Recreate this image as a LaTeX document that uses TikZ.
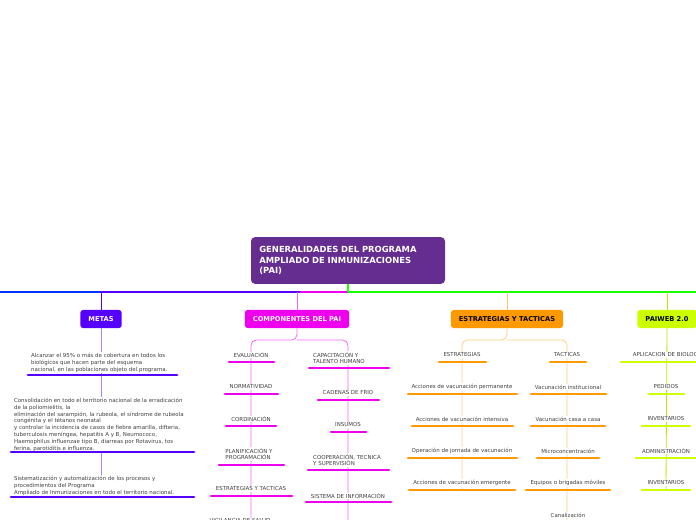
\documentclass[tikz,border=0pt]{standalone}
\usepackage{fontspec}
\setmainfont{DejaVu Sans}
\begin{document}
\begin{tikzpicture}[x=0.75pt,y=-0.75pt,
  leaf/.style={font=\fontsize{4.1}{5.1}\selectfont, text=black!75, fill=white, inner sep=0.6pt},
  bar/.style={line width=2.1pt, line cap=round},
  branch/.style={rounded corners=2pt, font=\bfseries\fontsize{5}{6}\selectfont, minimum height=13.5pt, inner xsep=6pt},
  conn/.style={line width=0.6pt, rounded corners=4pt}]
\useasboundingbox (0,0) rectangle (696,520);
\definecolor{rootc}{HTML}{662D91}
\definecolor{vio}{HTML}{5500FF}
\definecolor{mag}{HTML}{EE00EE}
\definecolor{ora}{HTML}{FF9900}
\definecolor{yel}{HTML}{CCFF00}
% main horizontal line
\draw[line width=0.9pt, blue!80!cyan] (0,292) -- (100,292);
\draw[line width=0.9pt, vio] (100,292) -- (300,292);
\draw[line width=0.9pt, mag] (300,292) -- (348,292);
\draw[line width=0.9pt, green!90!lime] (348,292) -- (696,292);
% root
\node[fill=rootc, rounded corners=3pt, text=white, font=\bfseries\fontsize{6.3}{8}\selectfont, align=left, minimum width=145.5pt, minimum height=35pt, text width=133pt] (root) at (348,260.5) {GENERALIDADES DEL PROGRAMA\\AMPLIADO DE INMUNIZACIONES\\(PAI)};
\coordinate (rj) at (348,292);
\draw[line width=1.4pt, green!80!lime] (root.south) -- (rj);
% branches
\node[branch, fill=vio, text=white] (metas) at (101,319) {METAS};
\node[branch, fill=mag, text=white] (comp) at (297,319) {COMPONENTES DEL PAI};
\node[branch, fill=ora, text=black] (estr) at (507,319) {ESTRATEGIAS Y TACTICAS};
\node[branch, fill=yel, text=black] (paiw) at (667,319) {PAIWEB 2.0};
\draw[conn, vio] (rj -| metas) -- (metas.north);
\draw[conn, mag!60] (rj -| comp) -- (comp.north);
\draw[conn, ora!60] (rj -| estr) -- (estr.north);
\draw[conn, yel!80!olive] (rj -| paiw) -- (paiw.north);
% METAS column
\coordinate (mend) at (101,497);
\draw[line width=0.6pt, vio!50] (metas.south) -- (mend);
\node[leaf, anchor=north west, align=left] (m1) at (30,352) {Alcanzar el 95\% o más de cobertura en todos los\\biológicos que hacen parte del esquema\\nacional, en las poblaciones objeto del programa.};
\draw[bar, vio] (28,375) -- (177,375);
\node[leaf, anchor=north west, align=left] (m2) at (13,397) {Consolidación en todo el territorio nacional de la erradicación\\de la poliomielitis, la\\ eliminación del sarampión, la rubeola, el síndrome de rubeola\\congénita y el tétanos neonatal\\y controlar la incidencia de casos de fiebre amarilla, difteria,\\tuberculosis meníngea, hepatitis A y B, Neumococo,\\Haemophilus influenzae tipo B, diarreas por Rotavirus, tos\\ferina, parotiditis e influenza.};
\draw[bar, vio] (11,452) -- (194,452);
\node[leaf, anchor=north west, align=left] (m3) at (13,475) {Sistematización y automatización de los procesos y\\procedimientos del Programa\\ Ampliado de Inmunizaciones en todo el territorio nacional.};
\draw[bar, vio] (11,497) -- (194,497);
% COMPONENTES
\coordinate (cs) at (297,340);
\coordinate (cl) at (251,530);
\coordinate (cr) at (348,530);
\draw[conn, mag!60] (comp.south) -- (cs) -| (cl);
\draw[conn, mag!60] (cs) -| (cr);
\node[leaf] (c1) at (251,355) {EVALUACIÓN}; \draw[bar, mag] (229,362) -- (274,362);
\node[leaf] (c2) at (251,387) {NORMATIVIDAD}; \draw[bar, mag] (225,394) -- (278,394);
\node[leaf] (c3) at (251,419) {CORDINACIÓN}; \draw[bar, mag] (226,426) -- (276,426);
\node[leaf, align=left] (c4) at (249,454) {PLANIFICACIÓN Y\\PROGRAMACIÓN}; \draw[bar, mag] (219,465) -- (284,465);
\node[leaf] (c5) at (251,489) {ESTRATEGIAS Y TACTICAS}; \draw[bar, mag] (211,496) -- (292,496);
\node[leaf] (c6) at (240,521) {VIGILANCIA DE SALUD};
\node[leaf, align=left] (d1) at (339,358) {CAPACITACIÓN Y\\TALENTO HUMANO}; \draw[bar, mag] (309,368) -- (389,368);
\node[leaf] (d2) at (348,393) {CADENAS DE FRIO}; \draw[bar, mag] (318,400) -- (379,400);
\node[leaf] (d3) at (348,425) {INSUMOS}; \draw[bar, mag] (331,432) -- (366,432);
\node[leaf, align=left] (d4) at (347,460) {COOPERACIÓN, TECNICA\\Y SUPERVISIÓN}; \draw[bar, mag] (308,470) -- (389,470);
\node[leaf] (d5) at (348,496) {SISTEMA DE INFORMACIÓN}; \draw[bar, mag] (306,502) -- (391,502);
% ESTRATEGIAS
\coordinate (es) at (507,340);
\coordinate (el) at (462,490);
\coordinate (er) at (567,530);
\draw[conn, ora!50] (estr.south) -- (es) -| (el);
\draw[conn, ora!50] (es) -| (er);
\node[leaf] (e1) at (462,355) {ESTRATEGIAS}; \draw[bar, ora] (439,362) -- (486,362);
\node[leaf] (e2) at (462,387) {Acciones de vacunación permanente}; \draw[bar, ora] (408,394) -- (517,394);
\node[leaf] (e3) at (462,419) {Acciones de vacunación intensiva}; \draw[bar, ora] (412,426) -- (513,426);
\node[leaf] (e4) at (462,451) {Operación de jornada de vacunación}; \draw[bar, ora] (408,458) -- (517,458);
\node[leaf] (e5) at (462,483) {Acciones de vacunación emergente}; \draw[bar, ora] (409,490) -- (515,490);
\node[leaf] (t1) at (567,355) {TACTICAS}; \draw[bar, ora] (550,362) -- (586,362);
\node[leaf] (t2) at (568,387) {Vacunación institucional}; \draw[bar, ora] (531,394) -- (606,394);
\node[leaf] (t3) at (568,419) {Vacunación casa a casa}; \draw[bar, ora] (531,426) -- (605,426);
\node[leaf] (t4) at (568,451) {Microconcentración}; \draw[bar, ora] (537,458) -- (599,458);
\node[leaf] (t5) at (568,483) {Equipos o brigadas móviles}; \draw[bar, ora] (526,490) -- (610,490);
\node[leaf] (t6) at (568,515) {Canalización};
% PAIWEB
\coordinate (pend) at (666,490);
\draw[line width=0.6pt, yel!80!olive] (paiw.south) -- (pend);
\node[leaf] (p1) at (672,355) {APLICACION DE BIOLOGICOS}; \draw[bar, yel] (621,362) -- (696,362);
\node[leaf] (p2) at (666,387) {PEDIDOS}; \draw[bar, yel] (649,394) -- (684,394);
\node[leaf] (p3) at (666,419) {INVENTARIOS}; \draw[bar, yel] (642,426) -- (690,426);
\node[leaf] (p4) at (666,451) {ADMINISTRACIÓN}; \draw[bar, yel] (636,458) -- (696,458);
\node[leaf] (p5) at (666,483) {INVENTARIOS}; \draw[bar, yel] (642,490) -- (690,490);
\end{tikzpicture}
\end{document}
